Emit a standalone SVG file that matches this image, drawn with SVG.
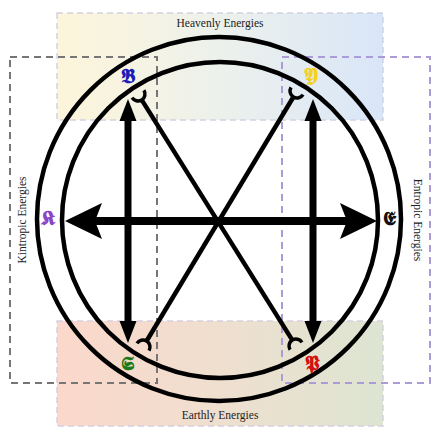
<svg xmlns="http://www.w3.org/2000/svg" width="441" height="441" viewBox="0 0 441 441">
  <style>
    .lbl { font-family: "Liberation Serif", "DejaVu Serif", serif; font-size: 11.5px; fill: #222; text-anchor: middle; }
    .frak { font-family: "DejaVu Serif", "DejaVu Sans", "Noto Sans", serif; font-size: 20px; font-weight: bold; text-anchor: middle; dominant-baseline: central; }
    .ring { fill: none; stroke: #000; stroke-width: 4.5; }
    .shaft { stroke: #000; fill: none; }
    .diag { stroke: #000; stroke-width: 4.5; fill: none; marker-start: url(#cupS); marker-end: url(#cup); }
  </style>
  <defs>
    <linearGradient id="gTop" x1="0" y1="0" x2="1" y2="0">
      <stop offset="0" stop-color="#fdf5da"/>
      <stop offset="0.5" stop-color="#edf1ec"/>
      <stop offset="1" stop-color="#d9e6f8"/>
    </linearGradient>
    <linearGradient id="gBot" x1="0" y1="0" x2="1" y2="0">
      <stop offset="0" stop-color="#fbd8cb"/>
      <stop offset="0.5" stop-color="#efdfcf"/>
      <stop offset="1" stop-color="#dde5d2"/>
    </linearGradient>
    <marker id="headV" markerUnits="userSpaceOnUse" orient="auto-start-reverse" overflow="visible" refX="1" refY="0" markerWidth="24" markerHeight="18">
      <path d="M0,-8.5 L22,0 L0,8.5 Z" fill="#000"/>
    </marker>
    <marker id="headH" markerUnits="userSpaceOnUse" orient="auto-start-reverse" overflow="visible" refX="8" refY="0" markerWidth="40" markerHeight="40">
      <path d="M0,-18 L37,0 L0,18 L7,0 Z" fill="#000"/>
    </marker>
    <marker id="cup" markerUnits="userSpaceOnUse" orient="auto" overflow="visible" refX="0" refY="0" markerWidth="16" markerHeight="16">
      <path d="M7,-7 A7,7 0 0 0 7,7" fill="none" stroke="#000" stroke-width="3.5"/>
    </marker>
    <marker id="cupS" markerUnits="userSpaceOnUse" orient="auto-start-reverse" overflow="visible" refX="0" refY="0" markerWidth="16" markerHeight="16">
      <path d="M7,-7 A7,7 0 0 0 7,7" fill="none" stroke="#000" stroke-width="3.5"/>
    </marker>
  </defs>

  <g id="heavenly">
    <rect x="57" y="13" width="326" height="107" fill="url(#gTop)" stroke="#d2d2e2" stroke-width="1.5" stroke-dasharray="6,4"/>
    <text class="lbl" x="220" y="27">Heavenly Energies</text>
  </g>
  <g id="earthly">
    <rect x="57" y="321" width="326" height="105" fill="url(#gBot)" stroke="#d8d0e0" stroke-width="1.5" stroke-dasharray="6,4"/>
    <text class="lbl" x="220" y="419">Earthly Energies</text>
  </g>
  <g id="kintropic">
    <rect x="10" y="57" width="147" height="326" fill="none" stroke="#767676" stroke-width="2" stroke-dasharray="7,5"/>
    <text class="lbl" transform="translate(26,220) rotate(-90)">Kintropic Energies</text>
  </g>
  <g id="entropic">
    <rect x="282" y="57" width="148" height="326" fill="none" stroke="#ab9bd6" stroke-width="2" stroke-dasharray="7,5"/>
    <text class="lbl" transform="translate(414,220) rotate(90)">Entropic Energies</text>
  </g>

  <g id="rings">
    <circle class="ring" cx="219" cy="219" r="182"/>
    <circle class="ring" cx="220" cy="220" r="158"/>
  </g>

  <g id="connectors">
    <line class="diag" x1="141.7" y1="99.9" x2="292.3" y2="340.1"/>
    <line class="diag" x1="293.4" y1="97" x2="146.6" y2="341"/>
    <line class="shaft" stroke-width="7" x1="128" y1="120" x2="128" y2="322" marker-start="url(#headV)" marker-end="url(#headV)"/>
    <line class="shaft" stroke-width="7" x1="313" y1="120" x2="313" y2="322" marker-start="url(#headV)" marker-end="url(#headV)"/>
    <line class="shaft" stroke-width="8" x1="94" y1="221" x2="348" y2="221" marker-start="url(#headH)" marker-end="url(#headH)"/>
  </g>

  <g id="node-B"><text class="frak" x="127.5" y="75.5" fill="#1c1cb8">𝕭</text></g>
  <g id="node-Y"><text class="frak" x="311" y="75" fill="#f2d21e">𝖄</text></g>
  <g id="node-K"><text class="frak" x="48" y="218" fill="#8a44c4">𝕶</text></g>
  <g id="node-E"><text class="frak" x="389" y="218" fill="#111">𝕰</text></g>
  <g id="node-S"><text class="frak" x="127" y="363" fill="#1a7a1a">𝕾</text></g>
  <g id="node-P"><text class="frak" x="312" y="363" fill="#d41010">𝕻</text></g>
</svg>
